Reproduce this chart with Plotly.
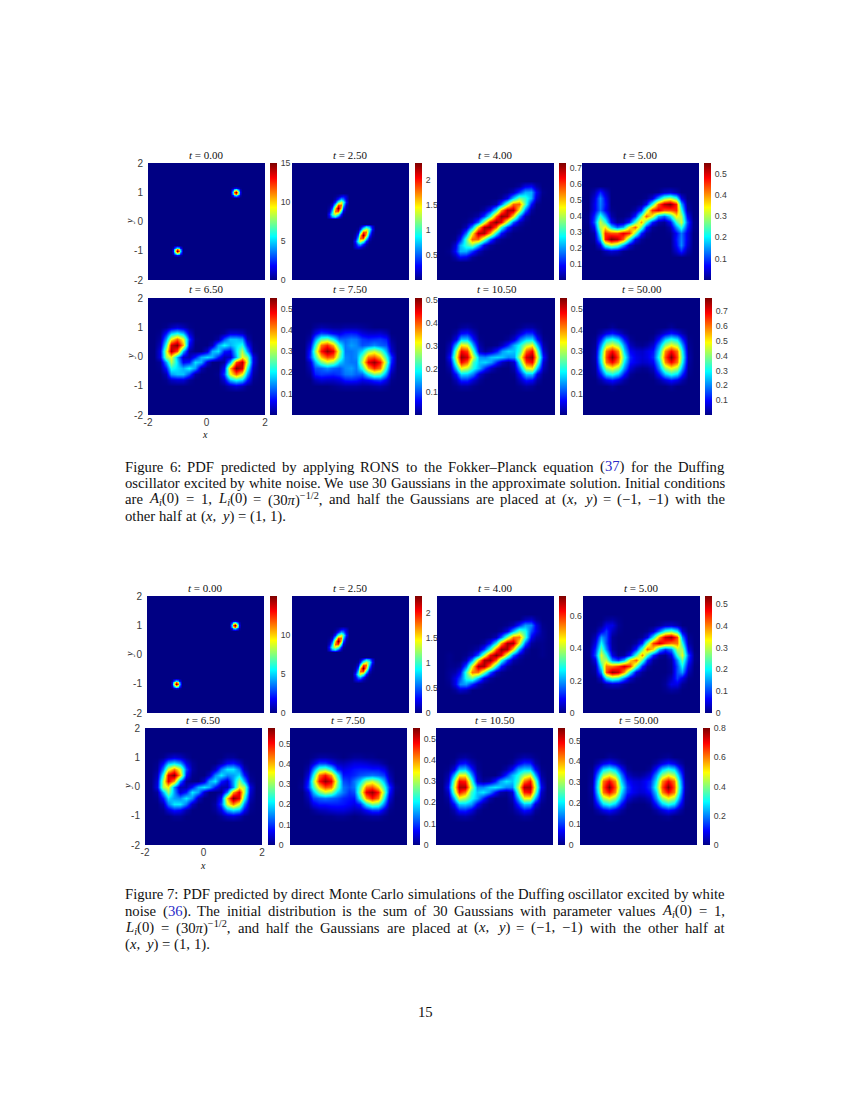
import re
import plotly.graph_objects as go

# ---------- titles and ticks ----------
TITLES = ["0.00", "2.50", "4.00", "5.00", "6.50", "7.50", "10.50", "50.00"]
AXIS_TICKS = [-2, -1, 0, 1, 2]
X_TICKS = [-2, 0, 2]

CMAX_6 = [15, 2.34, 0.73, 0.55, 0.55, 0.51, 0.55, 0.79]
CMAX_7 = [14.9, 2.34, 0.72, 0.537, 0.577, 0.55, 0.56, 0.80]
CTICKS_6 = [[0, 5, 10, 15], [0.5, 1, 1.5, 2], [.1, .2, .3, .4, .5, .6, .7], [.1, .2, .3, .4, .5],
            [.1, .2, .3, .4, .5], [.1, .2, .3, .4, .5], [.1, .2, .3, .4, .5], [.1, .2, .3, .4, .5, .6, .7]]
CTICKS_7 = [[0, 5, 10], [0, 0.5, 1, 1.5, 2], [0, .2, .4, .6], [0, .1, .2, .3, .4, .5],
            [0, .1, .2, .3, .4, .5], [0, .1, .2, .3, .4, .5], [0, .1, .2, .3, .4, .5], [0, .2, .4, .6, .8]]

# ---------- density, % of colour-bar top ----------
SPOT = [
    [0, 0, 0, 0, 0, 0, 0, 0, 0],
    [0, 1, 5, 9, 12, 9, 5, 1, 0],
    [0, 5, 15, 31, 39, 31, 15, 5, 0],
    [0, 9, 31, 62, 79, 62, 31, 9, 0],
    [0, 12, 39, 79, 100, 79, 39, 12, 0],
    [0, 9, 31, 62, 79, 62, 31, 9, 0],
    [0, 5, 15, 31, 39, 31, 15, 5, 0],
    [0, 1, 5, 9, 12, 9, 5, 1, 0],
    [0, 0, 0, 0, 0, 0, 0, 0, 0],
]
ELLIPSE = [
    [0, 0, 0, 0, 0, 0, 0, 0, 0],
    [0, 0, 0, 1, 4, 10, 12, 7, 0],
    [0, 0, 0, 4, 16, 30, 25, 9, 0],
    [0, 0, 2, 15, 44, 59, 43, 14, 0],
    [0, 1, 8, 39, 82, 77, 33, 6, 0],
    [0, 3, 20, 67, 100, 67, 20, 3, 0],
    [0, 6, 33, 77, 82, 39, 8, 1, 0],
    [0, 14, 43, 59, 44, 15, 2, 0, 0],
    [0, 9, 25, 30, 16, 4, 0, 0, 0],
    [0, 0, 0, 0, 0, 0, 0, 0, 0],
]

# Upper half of each panel: last row is y=0, rows step 0.2 upward; columns x=-1.8..1.8
F6_T4 = [
    [0, 0, 0, 0, 0, 0, 0, 0, 0, 0, 0, 0, 0, 2, 10, 12, 4, 0, 0],
    [0, 0, 0, 0, 0, 0, 0, 0, 0, 0, 0, 1, 6, 18, 30, 30, 12, 1, 0],
    [0, 0, 0, 0, 0, 0, 0, 0, 0, 0, 2, 10, 32, 50, 42, 30, 8, 0, 0],
    [0, 0, 0, 0, 0, 0, 0, 0, 1, 5, 22, 50, 78, 78, 45, 14, 1, 0, 0],
    [0, 0, 0, 0, 0, 0, 0, 3, 14, 38, 72, 95, 95, 62, 24, 3, 0, 0, 0],
    [0, 0, 0, 0, 0, 1, 4, 18, 42, 78, 98, 95, 66, 28, 5, 0, 0, 0, 0],
    [0, 0, 0, 0, 1, 6, 22, 55, 88, 100, 88, 55, 22, 6, 1, 0, 0, 0, 0],
]
F6_T5 = [
    [0, 4, 16, 7, 0, 0, 0, 0, 0, 0, 0, 0, 1, 6, 8, 4, 0, 0, 0],
    [0, 8, 26, 12, 0, 0, 0, 0, 0, 0, 1, 8, 28, 48, 55, 42, 10, 0, 0],
    [0, 10, 25, 14, 0, 0, 0, 0, 0, 2, 12, 42, 78, 95, 100, 85, 30, 2, 0],
    [0, 10, 24, 12, 1, 0, 0, 0, 3, 16, 50, 84, 90, 80, 80, 84, 42, 4, 0],
    [1, 16, 42, 26, 4, 0, 0, 2, 16, 48, 78, 62, 30, 22, 36, 64, 55, 12, 0],
    [1, 20, 58, 42, 12, 2, 4, 16, 44, 72, 44, 16, 4, 2, 12, 42, 58, 20, 1],
]
F6_T65 = [
    [0, 0, 1, 5, 8, 5, 1, 0, 0, 0, 0, 0, 0, 0, 0, 0, 0, 0, 0],
    [0, 1, 14, 32, 38, 30, 8, 0, 0, 0, 0, 0, 2, 8, 8, 6, 1, 0, 0],
    [0, 3, 28, 62, 78, 60, 18, 1, 0, 0, 0, 3, 20, 32, 32, 28, 5, 0, 0],
    [0, 6, 42, 92, 100, 70, 12, 0, 0, 0, 5, 28, 38, 30, 35, 40, 15, 1, 0],
    [0, 10, 58, 95, 80, 30, 3, 0, 0, 8, 30, 35, 15, 12, 35, 55, 28, 2, 0],
    [0, 10, 52, 62, 30, 7, 5, 15, 30, 35, 30, 15, 5, 7, 30, 62, 52, 10, 0],
]
F6_T75 = [
    [0, 0, 0, 2, 4, 3, 2, 2, 3, 3, 3, 2, 1, 0, 0, 0, 0, 0, 0],
    [0, 0, 1, 10, 18, 16, 12, 10, 14, 15, 14, 9, 7, 7, 8, 5, 0, 0, 0],
    [0, 0, 4, 26, 46, 50, 38, 22, 22, 25, 24, 18, 16, 17, 18, 15, 2, 0, 0],
    [0, 0, 10, 40, 76, 84, 70, 40, 24, 28, 26, 20, 22, 26, 22, 20, 5, 0, 0],
    [0, 0, 16, 52, 86, 98, 90, 55, 24, 24, 26, 34, 52, 58, 48, 30, 8, 0, 0],
    [0, 0, 18, 42, 68, 80, 76, 48, 26, 24, 26, 48, 76, 80, 68, 42, 18, 0, 0],
]
F6_T105 = [
    [0, 0, 0, 2, 3, 1, 0, 0, 0, 0, 0, 0, 0, 1, 3, 3, 1, 0, 0],
    [0, 0, 3, 12, 14, 6, 0, 0, 0, 0, 0, 0, 2, 8, 16, 16, 5, 0, 0],
    [0, 1, 10, 32, 32, 14, 1, 0, 0, 0, 0, 2, 8, 24, 33, 34, 14, 1, 0],
    [0, 5, 32, 64, 60, 28, 4, 0, 0, 1, 6, 16, 30, 40, 56, 62, 32, 4, 0],
    [0, 8, 52, 88, 82, 44, 8, 2, 6, 15, 28, 34, 32, 44, 78, 88, 50, 8, 0],
    [0, 14, 60, 98, 92, 58, 28, 26, 32, 34, 32, 26, 28, 58, 92, 98, 60, 14, 0],
]
F6_T50 = [
    [0, 0, 0, 0, 2, 0, 0, 0, 0, 0, 0, 0, 0, 0, 2, 0, 0, 0, 0],
    [0, 0, 4, 10, 14, 9, 3, 0, 0, 0, 0, 0, 3, 9, 14, 10, 4, 0, 0],
    [0, 1, 16, 34, 40, 32, 14, 2, 0, 0, 0, 2, 14, 32, 40, 34, 16, 1, 0],
    [0, 2, 28, 54, 62, 52, 26, 6, 2, 1, 3, 8, 27, 52, 62, 54, 28, 2, 0],
    [0, 3, 38, 76, 88, 74, 34, 12, 8, 7, 10, 14, 36, 74, 88, 76, 38, 3, 0],
    [0, 4, 42, 80, 100, 80, 42, 16, 10, 8, 10, 16, 42, 80, 100, 80, 42, 4, 0],
]
F7_T4 = [
    [0, 0, 0, 0, 0, 0, 0, 0, 0, 0, 0, 0, 0, 0, 5, 7, 2, 0, 0],
    [0, 0, 0, 0, 0, 0, 0, 0, 0, 0, 0, 1, 5, 16, 28, 26, 10, 1, 0],
    [0, 0, 0, 0, 0, 0, 0, 0, 0, 0, 2, 10, 30, 48, 40, 20, 10, 2, 0],
    [0, 0, 0, 0, 0, 0, 0, 0, 1, 5, 22, 50, 76, 76, 44, 12, 4, 2, 0],
    [0, 0, 0, 0, 0, 0, 0, 3, 14, 38, 72, 96, 96, 62, 22, 3, 1, 1, 0],
    [0, 0, 0, 0, 0, 1, 4, 18, 42, 78, 98, 96, 66, 28, 5, 0, 0, 1, 0],
    [0, 1, 0, 0, 1, 6, 22, 55, 88, 100, 88, 55, 22, 6, 1, 0, 0, 1, 0],
]
F7_T5 = [
    [0, 0, 0, 2, 3, 1, 0, 0, 0, 0, 0, 0, 0, 0, 0, 0, 0, 0, 0],
    [0, 0, 2, 10, 10, 2, 0, 0, 0, 0, 0, 0, 2, 6, 7, 4, 0, 0, 0],
    [0, 1, 10, 18, 6, 1, 0, 0, 0, 0, 1, 7, 24, 42, 48, 36, 8, 0, 0],
    [0, 5, 28, 20, 2, 0, 0, 0, 0, 2, 10, 38, 72, 93, 98, 80, 26, 2, 0],
    [0, 10, 38, 20, 2, 0, 0, 0, 3, 16, 48, 82, 92, 82, 76, 76, 40, 4, 0],
    [1, 16, 48, 26, 3, 0, 0, 2, 16, 46, 78, 66, 32, 18, 26, 56, 54, 10, 0],
    [1, 20, 60, 42, 10, 1, 3, 16, 44, 74, 44, 16, 3, 1, 10, 42, 60, 20, 1],
]
F7_T65 = [
    [0, 0, 1, 5, 8, 6, 2, 0, 0, 0, 0, 0, 0, 2, 2, 0, 0, 0, 0],
    [0, 1, 12, 30, 35, 28, 10, 2, 0, 0, 0, 0, 4, 12, 14, 8, 1, 0, 0],
    [0, 2, 25, 58, 75, 58, 20, 3, 0, 0, 0, 6, 24, 36, 36, 24, 5, 0, 0],
    [0, 5, 42, 90, 100, 68, 14, 1, 0, 0, 6, 26, 36, 26, 28, 35, 15, 1, 0],
    [0, 8, 55, 90, 72, 24, 2, 0, 0, 8, 28, 36, 15, 8, 28, 52, 30, 3, 0],
    [0, 10, 55, 62, 26, 5, 4, 14, 30, 36, 30, 14, 4, 5, 26, 62, 55, 10, 0],
]
F7_T75 = [
    [0, 0, 0, 1, 3, 3, 2, 1, 0, 1, 2, 2, 1, 1, 0, 0, 0, 0, 0],
    [0, 0, 1, 8, 18, 18, 12, 6, 5, 7, 9, 9, 8, 6, 5, 2, 0, 0, 0],
    [0, 0, 4, 24, 46, 50, 38, 16, 10, 12, 14, 15, 15, 14, 14, 10, 2, 0, 0],
    [0, 0, 9, 38, 76, 86, 72, 40, 14, 14, 16, 20, 22, 24, 22, 18, 5, 0, 0],
    [0, 1, 15, 50, 86, 98, 90, 52, 20, 17, 24, 34, 52, 58, 48, 30, 9, 0, 0],
    [0, 2, 18, 42, 66, 80, 76, 46, 24, 20, 24, 46, 76, 80, 66, 42, 18, 2, 0],
]
F7_T105 = [
    [0, 0, 0, 2, 3, 1, 0, 0, 0, 0, 0, 0, 0, 2, 4, 3, 1, 0, 0],
    [0, 0, 2, 11, 14, 6, 1, 0, 0, 0, 0, 0, 2, 10, 16, 15, 4, 0, 0],
    [0, 1, 9, 30, 32, 16, 2, 0, 0, 0, 0, 3, 12, 28, 33, 32, 13, 1, 0],
    [0, 4, 30, 62, 62, 30, 5, 0, 0, 0, 4, 16, 30, 40, 54, 60, 30, 3, 0],
    [0, 7, 50, 88, 85, 46, 8, 2, 4, 14, 28, 36, 32, 44, 76, 86, 50, 7, 0],
    [0, 12, 58, 96, 96, 56, 26, 26, 33, 36, 33, 26, 26, 56, 96, 96, 58, 12, 0],
]
F7_T50 = [
    [0, 0, 0, 0, 2, 1, 0, 0, 0, 0, 0, 0, 0, 1, 2, 0, 0, 0, 0],
    [0, 0, 4, 10, 14, 9, 3, 0, 0, 0, 0, 0, 3, 9, 14, 10, 4, 0, 0],
    [0, 1, 16, 34, 40, 32, 14, 2, 0, 0, 0, 2, 14, 32, 40, 34, 16, 1, 0],
    [0, 2, 28, 54, 62, 52, 26, 7, 3, 2, 4, 9, 27, 52, 62, 54, 28, 2, 0],
    [0, 3, 38, 76, 88, 74, 34, 14, 9, 8, 11, 16, 36, 74, 88, 76, 38, 3, 0],
    [0, 4, 42, 80, 100, 80, 42, 18, 11, 9, 11, 18, 42, 80, 100, 80, 42, 4, 0],
]

# ---------- caption text ----------
CAPTION_6 = [
    "Figure 6: PDF predicted by applying RONS to the Fokker–Planck equation (@37@) for the Duffing",
    "oscillator excited by white noise. We use 30 Gaussians in the approximate solution. Initial conditions",
    "are <i>A</i><sub><i>i</i></sub>(0) = 1, <i>L</i><sub><i>i</i></sub>(0) = (30<i>π</i>)<sup>−1/2</sup>, and half the Gaussians are placed at (<i>x, y</i>) = (−1, −1) with the",
    "other half at (<i>x, y</i>) = (1, 1).",
]
CAPTION_7 = [
    "Figure 7: PDF predicted by direct Monte Carlo simulations of the Duffing oscillator excited by white",
    "noise (@36@). The initial distribution is the sum of 30 Gaussians with parameter values <i>A</i><sub><i>i</i></sub>(0) = 1,",
    "<i>L</i><sub><i>i</i></sub>(0) = (30<i>π</i>)<sup>−1/2</sup>, and half the Gaussians are placed at (<i>x, y</i>) = (−1, −1) with the other half at",
    "(<i>x, y</i>) = (1, 1).",
]

# ---------- page geometry in pixels; the browser's 8 px body margin is taken off ----------
BODY = 8
W, H, SIDE = 842, 1092, 117
CB_W = 7
JET = [[0, "#000083"], [0.125, "#0000ff"], [0.375, "#00ffff"], [0.5, "#80ff80"],
       [0.625, "#ffff00"], [0.875, "#ff0000"], [1, "#800000"]]
SANS, SERIF = "Liberation Sans", "Liberation Serif"
TICK_COLOR = "#3c3c3c"
UNIT = 0.2

LAYOUT_6 = [(148, 163, 270), (292, 163, 415), (437, 163, 559), (582, 163, 704),
            (148, 298, 270), (292, 298, 415), (438, 298, 560), (583, 298, 705)]
LAYOUT_7 = [(147, 596, 270), (292, 596, 415), (437, 596, 559), (583, 596, 705),
            (145, 728, 268), (290, 728, 413), (436, 728, 558), (580, 728, 703)]
TITLE_Y_6 = [155, 155, 155, 155, 289, 289, 289, 289]
TITLE_Y_7 = [588, 588, 588, 588, 720, 720, 720, 720]


def fx(px):
    return (px - BODY) / W


def fy(px):
    return 1 - (px - BODY) / H


def half_panel(rows):
    """Full 21x21 grid from the upper-half rows, completed by the point symmetry of the picture."""
    n = 21
    z = [[0.0] * n for _ in range(n)]
    count = len(rows)
    for k, row in enumerate(rows):
        up = count - 1 - k
        for c, v in enumerate(row):
            z[10 + up][c + 1] = v
            z[10 - up][19 - c] = v
    axis = [round(-2 + UNIT * i, 1) for i in range(n)]
    return axis, axis, z


def block_panel(block, cx, cy, step, top_offset):
    """Two small rotated blobs on a zero background, on a non-uniform grid."""
    nr, nc = len(block), len(block[0])
    half_c = nc // 2
    xs_u = [cx + (i - half_c) * step for i in range(nc)]
    ys_u = [cy + (top_offset - r) * step for r in range(nr)][::-1]
    xs_l = [-v for v in xs_u][::-1]
    ys_l = [-v for v in ys_u][::-1]
    x = [-2] + sorted(xs_u + xs_l) + [2]
    y = [-2] + ys_l + ys_u + [2]
    z = [[0.0] * len(x) for _ in y]
    col_u = 1 if cx < 0 else 1 + nc
    col_l = 1 + nc if cx < 0 else 1
    for r in range(nr):
        for c in range(nc):
            v = block[r][c]
            z[1 + nr + (nr - 1 - r)][col_u + c] = v
            z[1 + r][col_l + (nc - 1 - c)] = v
    return x, y, z


GRIDS_6 = [block_panel(SPOT, 1.0, 1.0, 0.05, 4), block_panel(ELLIPSE, -0.44, 0.47, 0.1, 5),
           half_panel(F6_T4), half_panel(F6_T5), half_panel(F6_T65), half_panel(F6_T75),
           half_panel(F6_T105), half_panel(F6_T50)]
GRIDS_7 = [block_panel(SPOT, 1.0, 1.0, 0.05, 4), block_panel(ELLIPSE, -0.44, 0.47, 0.1, 5),
           half_panel(F7_T4), half_panel(F7_T5), half_panel(F7_T65), half_panel(F7_T75),
           half_panel(F7_T105), half_panel(F7_T50)]

fig = go.Figure()
annotations = []


def put_text(x, y, text, size, font=SERIF, color="#111111", anchor="left", angle=0):
    annotations.append(dict(
        x=fx(x), y=fy(y), xref="paper", yref="paper", text=text, showarrow=False,
        xanchor=anchor, yanchor="middle", borderpad=0, borderwidth=0, textangle=angle,
        font=dict(family=font, size=size, color=color)))


index = 0
layout_axes = {}


def next_suffix():
    global index
    index += 1
    return "" if index == 1 else str(index)


def add_figure(grids, places, cmaxes, cticks, title_ys):
    for k, ((x, y, z), (left, top, cb_left), cmax, ticks, ty, title) in enumerate(
            zip(grids, places, cmaxes, cticks, title_ys, TITLES)):
        suffix = next_suffix()
        scale = cmax / 100.0
        fig.add_trace(go.Heatmap(
            x=x, y=y, z=[[v * scale for v in row] for row in z],
            xaxis="x" + suffix, yaxis="y" + suffix, zsmooth="best",
            colorscale=JET, zmin=0, zmax=cmax, hoverinfo="skip", showscale=False))
        show_y = k in (0, 4)
        show_x = k == 4
        layout_axes["xaxis" + suffix] = dict(
            domain=[fx(left), fx(left + SIDE)], range=[-2, 2], anchor="y" + suffix,
            showgrid=False, zeroline=False, showline=False, ticks="",
            tickmode="array", tickvals=X_TICKS if show_x else [], ticktext=[str(t) for t in X_TICKS] if show_x else [],
            tickfont=dict(family=SANS, size=10, color=TICK_COLOR))
        layout_axes["yaxis" + suffix] = dict(
            domain=[fy(top + SIDE), fy(top)], range=[-2, 2], anchor="x" + suffix,
            showgrid=False, zeroline=False, showline=False, ticks="outside", ticklen=2,
            tickcolor="rgba(0,0,0,0)",
            tickmode="array", tickvals=AXIS_TICKS if show_y else [], ticktext=[str(t) for t in AXIS_TICKS] if show_y else [],
            tickfont=dict(family=SANS, size=10, color=TICK_COLOR))
        put_text(left + SIDE / 2, ty, f"<i>t</i> = {title}", 11, anchor="center")

        # colour bar as its own small heatmap axis
        cb = next_suffix()
        fig.add_trace(go.Heatmap(
            x=[0, 1], y=[0, cmax], z=[[0, 0], [cmax, cmax]],
            xaxis="x" + cb, yaxis="y" + cb, zsmooth="best",
            colorscale=JET, zmin=0, zmax=cmax, hoverinfo="skip", showscale=False))
        layout_axes["xaxis" + cb] = dict(
            domain=[fx(cb_left), fx(cb_left + CB_W)], range=[0, 1], anchor="y" + cb,
            showgrid=False, zeroline=False, showline=False, ticks="", tickvals=[])
        layout_axes["yaxis" + cb] = dict(
            domain=[fy(top + SIDE), fy(top)], range=[0, cmax], anchor="x" + cb, side="right",
            showgrid=False, zeroline=False, showline=False, ticks="outside", ticklen=1,
            tickcolor="rgba(0,0,0,0)",
            tickmode="array", tickvals=ticks, ticktext=[str(t) for t in ticks],
            tickfont=dict(family=SANS, size=8.7, color=TICK_COLOR))


add_figure(GRIDS_6, LAYOUT_6, CMAX_6, CTICKS_6, TITLE_Y_6)
add_figure(GRIDS_7, LAYOUT_7, CMAX_7, CTICKS_7, TITLE_Y_7)

# axis names
put_text(130, 221, "<i>y</i>", 10, anchor="center", angle=-90)
put_text(130, 356, "<i>y</i>", 10, anchor="center", angle=-90)
put_text(205, 435, "<i>x</i>", 10, anchor="center")
put_text(129, 654, "<i>y</i>", 10, anchor="center", angle=-90)
put_text(127, 786, "<i>y</i>", 10, anchor="center", angle=-90)
put_text(203, 865, "<i>x</i>", 10, anchor="center")

# ---------- justified captions: word widths from Times metrics ----------
WIDTHS = dict(zip("abcdefghijklmnopqrstuvwxyz",
                  [444, 500, 444, 500, 444, 333, 500, 500, 278, 278, 500, 278, 778, 500, 500, 500, 500, 333, 389,
                   278, 500, 500, 722, 500, 500, 444]))
WIDTHS.update(dict(zip("ABCDEFGHIJKLMNOPQRSTUVWXYZ",
                       [722, 667, 667, 722, 611, 556, 722, 722, 333, 389, 722, 611, 889, 722, 722, 556, 722, 667, 556,
                        611, 722, 722, 944, 722, 722, 611])))
WIDTHS.update({".": 250, ",": 250, ":": 278, "(": 333, ")": 333, "=": 564, "–": 500, "−": 564, "π": 520, "/": 278, "@": 0})
CAP_SIZE = 14.7
LEFT, RIGHT = 125, 725


def word_width(word):
    total = 0.0
    for part in re.split(r"(<su[bp]>.*?</su[bp]>)", word):
        factor = 0.7 if part.startswith("<su") else 1.0
        plain = re.sub(r"<[^>]+>", "", part)
        total += factor * sum(WIDTHS.get(ch, 500) for ch in plain)
    return total * CAP_SIZE / 1000


def balance(words):
    # keep italic runs such as <i>x, y</i> valid when they are split on spaces
    out, open_i = [], False
    for w in words:
        s = "<i>" + w if open_i else w
        if s.count("<i>") > s.count("</i>"):
            s += "</i>"
            open_i = True
        else:
            open_i = False
        out.append(s)
    return out


def put_caption(lines, ys):
    for i, (line, y) in enumerate(zip(lines, ys)):
        words = balance(line.split(" "))
        widths = [word_width(w) for w in words]
        if i == len(lines) - 1:
            gap = 4.2
        else:
            gap = (RIGHT - LEFT - sum(widths)) / (len(words) - 1)
        x = LEFT
        for w, wd in zip(words, widths):
            text = w
            m = re.search(r"@(.*?)@", w)
            if m:
                text = w.replace(m.group(0), f'<span style="color:#2a2ac8">{m.group(1)}</span>')
            put_text(x, y, text, CAP_SIZE)
            x += wd + gap


put_caption(CAPTION_6, [466.5, 483, 499.5, 516])
put_caption(CAPTION_7, [894, 911, 927.5, 944])
put_text(425, 1012, "15", CAP_SIZE, anchor="center")

fig.update_layout(
    width=W, height=H, margin=dict(l=0, r=0, t=0, b=0, pad=0, autoexpand=False), autosize=False,
    paper_bgcolor="white", plot_bgcolor="white", showlegend=False,
    annotations=annotations, **layout_axes)

fig.write_html("out.html")
